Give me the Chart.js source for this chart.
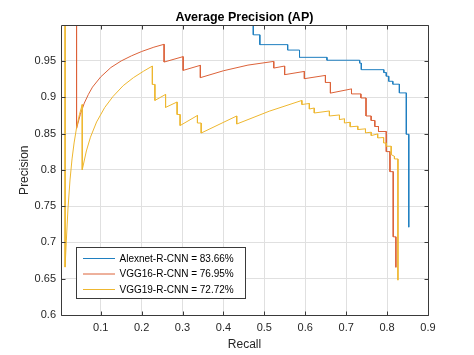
<!DOCTYPE html>
<html><head><meta charset="utf-8">
<script src="https://cdn.jsdelivr.net/npm/chart.js@4.4.1/dist/chart.umd.min.js"></script>
<style>html,body{margin:0;padding:0;background:#fff;}#wrap{position:relative;width:474px;height:355px;}</style>
</head><body><div id="wrap"><canvas id="c" width="474" height="355"></canvas></div>
<script>
const titleText = "Average Precision (AP)";
const xTitle = "Recall";
const yTitle = "Precision";
const seriesLabels = ["Alexnet-R-CNN = 83.66%", "VGG16-R-CNN = 76.95%", "VGG19-R-CNN = 72.72%"];
const seriesColors = ["#1f7fc0", "#dc6239", "#eeb72f"];
const xTicks = [0.1, 0.2, 0.3, 0.4, 0.5, 0.6, 0.7, 0.8, 0.9];
const yTicks = [0.6, 0.65, 0.7, 0.75, 0.8, 0.85, 0.9, 0.95];

const alexRecall = [0.473,0.473,0.489,0.489,0.557,0.557,0.586,0.586,0.653,0.653,0.733,0.733,0.737,0.737,0.792,0.792,0.798,0.798,0.804,0.804,0.814,0.814,0.830,0.830,0.847,0.847,0.853,0.853];
const alexPrecision = [1.0,0.986,0.986,0.9725,0.9725,0.965,0.965,0.955,0.955,0.951,0.951,0.947,0.947,0.938,0.938,0.934,0.934,0.929,0.929,0.922,0.922,0.918,0.918,0.906,0.906,0.849,0.849,0.721];

const vgg16Recall = [0.041,0.041,0.05,0.06,0.07,0.08,0.10,0.125,0.15,0.175,0.20,0.23,0.255,0.255,0.3015,0.3015,0.3436,0.3436,0.40,0.46,0.523,0.523,0.5496,0.5496,0.5978,0.5978,0.6493,0.6493,0.6615,0.6615,0.713,0.713,0.736,0.736,0.7485,0.7485,0.761,0.761,0.770,0.770,0.779,0.779,0.798,0.798,0.807,0.807,0.815,0.815,0.8215,0.8215];
const vgg16Precision = [1.0,0.857,0.876,0.892,0.904,0.914,0.928,0.941,0.950,0.957,0.963,0.969,0.973,0.9485,0.956,0.937,0.944,0.927,0.9365,0.9443,0.9494,0.9402,0.943,0.9311,0.9356,0.9256,0.9301,0.9204,0.9204,0.9057,0.9115,0.9046,0.9046,0.899,0.899,0.8742,0.8742,0.868,0.868,0.8597,0.8597,0.8528,0.8528,0.8251,0.8251,0.7975,0.7975,0.7077,0.7077,0.6657];

const vgg19Recall = [0.013,0.013,0.016,0.02,0.025,0.03,0.035,0.041,0.048,0.0549,0.0549,0.065,0.075,0.09,0.11,0.13,0.155,0.18,0.205,0.2263,0.2263,0.2325,0.2325,0.2586,0.2586,0.2868,0.2868,0.2941,0.2941,0.3365,0.3365,0.3456,0.3456,0.4325,0.4325,0.512,0.5917,0.5917,0.610,0.610,0.622,0.622,0.659,0.659,0.6836,0.6836,0.6958,0.6958,0.7098,0.7098,0.7284,0.7284,0.7472,0.7472,0.7612,0.7612,0.777,0.777,0.7915,0.7915,0.798,0.798,0.810,0.810,0.818,0.818,0.8265,0.8265];
const vgg19Precision = [1.0,0.666,0.702,0.746,0.786,0.815,0.837,0.858,0.876,0.890,0.800,0.826,0.845,0.866,0.886,0.901,0.916,0.927,0.936,0.943,0.9177,0.9177,0.8956,0.9039,0.886,0.8935,0.8762,0.8762,0.861,0.8749,0.8645,0.8645,0.8507,0.8742,0.8631,0.8808,0.8956,0.890,0.8914,0.8838,0.8852,0.8783,0.8811,0.8742,0.8756,0.8693,0.8703,0.8645,0.8656,0.8593,0.8601,0.8555,0.8565,0.851,0.8518,0.8472,0.8495,0.844,0.8445,0.837,0.837,0.8325,0.8325,0.821,0.8186,0.815,0.815,0.648];

const FONT = '"Liberation Sans", Arial, Helvetica, sans-serif';
const TXT = '#262626';
const GRID = '#e0e0e0';

const recalls = [alexRecall, vgg16Recall, vgg19Recall];
const precisions = [alexPrecision, vgg16Precision, vgg19Precision];
const datasets = seriesLabels.map((lab, i) => ({
  label: lab,
  data: recalls[i].map((r, j) => ({x: r, y: precisions[i][j]})),
  borderColor: seriesColors[i],
  backgroundColor: seriesColors[i],
  borderWidth: 1,
  pointRadius: 0,
  tension: 0,
  fill: false,
  order: 2 - i
}));

const framePlugin = {
  id: 'frame',
  afterDatasetsDraw(chart) {
    const {ctx, chartArea: a, scales: {x, y}} = chart;
    const L = Math.round(a.left) + 0.5, R = Math.round(a.right) + 0.5;
    const T = Math.round(a.top) + 0.5, B = Math.round(a.bottom) + 0.5;
    ctx.save();
    ctx.strokeStyle = '#3a3a3a';
    ctx.lineWidth = 1;
    ctx.beginPath();
    ctx.rect(L, T, R - L, B - T);
    const tl = 4;
    yTicks.forEach(v => {
      const py = Math.round(y.getPixelForValue(v)) + 0.5;
      ctx.moveTo(L, py); ctx.lineTo(L + tl, py);
      ctx.moveTo(R, py); ctx.lineTo(R - tl, py);
    });
    xTicks.forEach(v => {
      const px = Math.round(x.getPixelForValue(v)) + 0.5;
      ctx.moveTo(px, B); ctx.lineTo(px, B - tl);
      ctx.moveTo(px, T); ctx.lineTo(px, T + tl);
    });
    ctx.stroke();
    // legend box
    const bx = 76.5, by = 247.5, bw = 169, bh = 51;
    ctx.fillStyle = '#fff';
    ctx.fillRect(bx, by, bw, bh);
    ctx.strokeStyle = '#3a3a3a';
    ctx.strokeRect(bx, by, bw, bh);
    ctx.font = '10px ' + FONT;
    ctx.textBaseline = 'middle';
    ctx.textAlign = 'left';
    const rows = [258.5, 274, 289.5];
    seriesLabels.forEach((lab, i) => {
      ctx.strokeStyle = seriesColors[i];
      ctx.lineWidth = 1;
      ctx.beginPath();
      ctx.moveTo(83, rows[i]); ctx.lineTo(115, rows[i]);
      ctx.stroke();
      ctx.fillStyle = '#000';
      ctx.fillText(lab, 119.5, rows[i] + 0.5);
    });
    ctx.restore();
  }
};

new Chart(document.getElementById('c'), {
  type: 'line',
  data: {datasets},
  options: {
    responsive: false,
    animation: false,
    devicePixelRatio: 1,
    layout: {padding: {left: 0, right: 46, top: 0, bottom: 0}},
    plugins: {
      legend: {display: false},
      tooltip: {enabled: false},
      title: {display: true, text: titleText, fullSize: false, color: '#000',
        font: {family: FONT, size: 12.5, weight: 'bold'}, padding: {top: 10.2, bottom: 0.2}}
    },
    scales: {
      x: {
        type: 'linear', min: 0.003, max: 0.9,
        afterBuildTicks: s => { s.ticks = xTicks.map(v => ({value: v})); },
        ticks: {color: TXT, font: {family: FONT, size: 11}, padding: 6, maxRotation: 0, autoSkip: false,
          callback: v => String(v)},
        grid: {color: GRID, drawTicks: false, lineWidth: 1},
        border: {display: false},
        title: {display: true, text: xTitle, color: TXT, font: {family: FONT, size: 12}, padding: {top: 0, bottom: 3.5}},
        afterFit: s => { s.height = 40; s.paddingLeft = 0; s.paddingRight = 0; }
      },
      y: {
        type: 'linear', min: 0.6, max: 0.999,
        afterBuildTicks: s => { s.ticks = yTicks.map(v => ({value: v})); },
        ticks: {color: TXT, font: {family: FONT, size: 11}, padding: 5, autoSkip: false,
          callback: v => String(v)},
        grid: {color: GRID, drawTicks: false, lineWidth: 1},
        border: {display: false},
        title: {display: true, text: yTitle, color: TXT, font: {family: FONT, size: 12}, padding: {top: 17.5, bottom: 0}},
        afterFit: s => { s.width = 61; s.paddingTop = 0; s.paddingBottom = 0; }
      }
    }
  },
  plugins: [framePlugin]
});
</script></body></html>
